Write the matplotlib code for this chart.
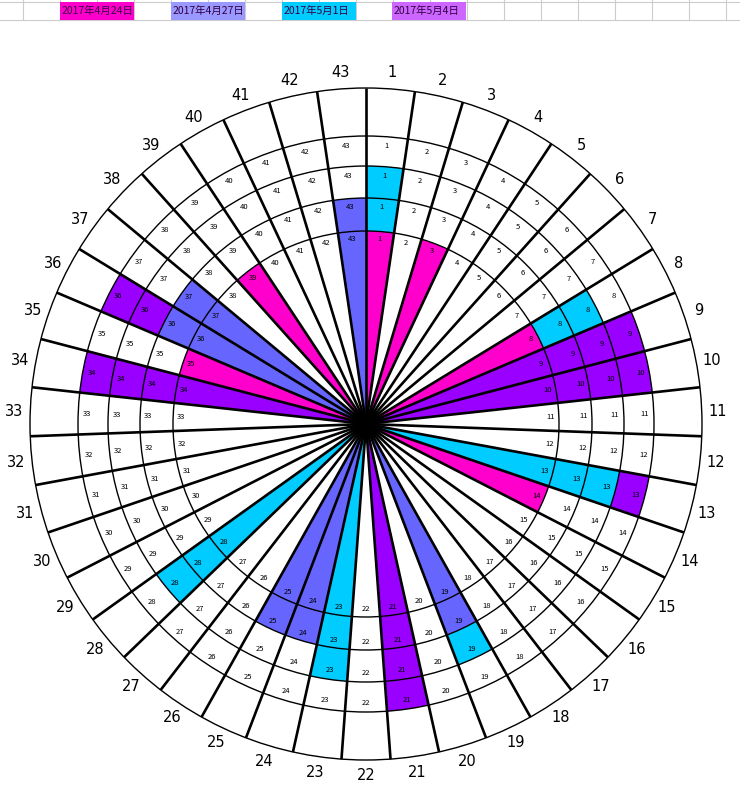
import matplotlib
matplotlib.use("Agg")
import matplotlib.pyplot as plt
from matplotlib.patches import Wedge, Rectangle, Circle
import numpy as np

plt.rcParams['font.family'] = ['Noto Sans CJK JP', 'DejaVu Sans']

n_sectors = 43
legend_labels = ["2017年4月24日", "2017年4月27日", "2017年5月1日", "2017年5月4日"]
legend_colors = ["#FF00CC", "#9999FF", "#00CCFF", "#CC66FF"]
fill_colors = {"P": "#FF00CC", "B": "#6666FF", "C": "#00CCFF", "V": "#9900FF"}
# sector -> colours of rings 1..4 (inner to outer)
highlights = {
    1: "PCC", 3: "P", 8: "PCC", 9: "VVVV", 10: "VVVV", 13: "CCCV", 14: "P",
    19: "BBC", 21: "VVVV", 23: "CCC", 24: "BB", 25: "BB", 28: "CCC",
    34: "VVVV", 35: "P", 36: "BBVV", 37: "BB", 39: "P", 43: "BB",
}

W, H = 740, 800
fig = plt.figure(figsize=(7.4, 8), dpi=100)
ax = fig.add_axes([0, 0, 1, 1])
ax.set_xlim(0, W); ax.set_ylim(0, H); ax.axis('off')

cx, cy = 366, H - 424
bounds = [0, 193, 226, 258, 288, 336]
label_r = [185, 218, 249, 279]
w = 360 / n_sectors

for s in range(1, n_sectors + 1):
    t1 = 90 - s * w; t2 = 90 - (s - 1) * w
    for k, c in enumerate(highlights.get(s, "")):
        ax.add_patch(Wedge((cx, cy), bounds[k + 1], t1, t2, width=bounds[k + 1] - bounds[k],
                           facecolor=fill_colors[c], edgecolor='none', zorder=1))

for r in bounds[1:]:
    ax.add_patch(Circle((cx, cy), r, fill=False, edgecolor='black', lw=1.0, zorder=3))

for s in range(n_sectors):
    a = np.deg2rad(90 - s * w)
    ax.plot([cx, cx + bounds[-1] * np.cos(a)], [cy, cy + bounds[-1] * np.sin(a)],
            color='black', lw=1.9, zorder=4, solid_capstyle='butt')
ax.add_patch(Circle((cx, cy), 5, color='black', zorder=5))

for s in range(1, n_sectors + 1):
    a = np.deg2rad(90 - (s - 0.5) * w)
    for k, r in enumerate(label_r):
        ax.text(cx + r * np.cos(a), cy + r * np.sin(a), str(s), fontsize=5.5,
                ha='center', va='center', zorder=6, color='black')
    ax.text(cx + 352 * np.cos(a), cy + 352 * np.sin(a), str(s), fontsize=10.5,
            ha='center', va='center', zorder=6, family='DejaVu Sans')

for x in np.arange(23, W, 37):
    ax.plot([x, x], [H, H - 20], color='#cccccc', lw=0.8, zorder=0)
ax.plot([0, W], [H - 20, H - 20], color='#cccccc', lw=0.8, zorder=0)
ax.plot([0, W], [H - 2, H - 2], color='#cccccc', lw=0.8, zorder=0)
xs = [60, 171, 282, 392]
for x, lab, col in zip(xs, legend_labels, legend_colors):
    ax.add_patch(Rectangle((x, H - 20), 74, 18, facecolor=col, edgecolor='none', zorder=1))
    ax.text(x + 2, H - 11, lab, fontsize=7.5, va='center', ha='left', color='#330044', zorder=2)

fig.savefig("out.png", dpi=100)
